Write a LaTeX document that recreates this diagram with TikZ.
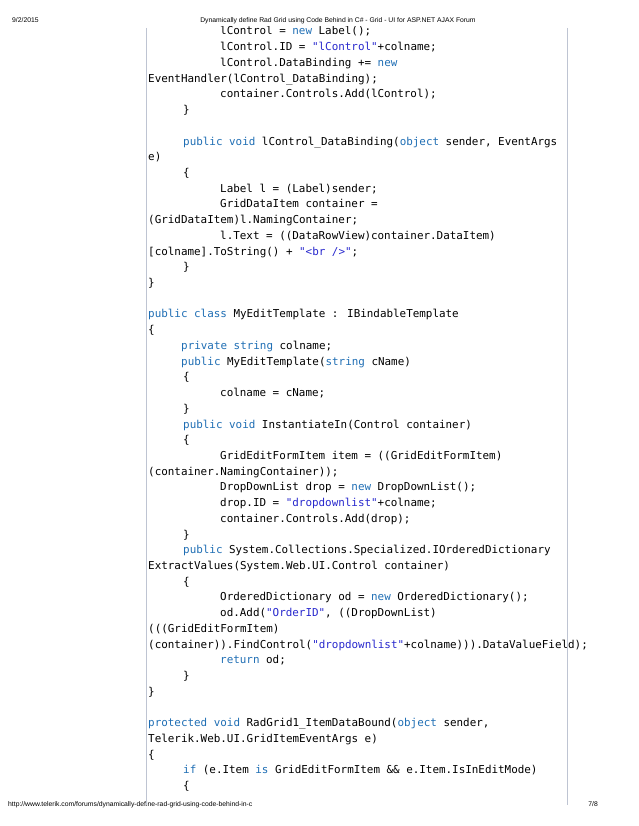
\documentclass[tikz,border=0pt]{standalone}
\usepackage{fontspec}
\setmainfont{Liberation Sans}
\newfontfamily\codefont{DejaVu Sans Mono}
\definecolor{kw}{RGB}{31,110,180}
\definecolor{strc}{RGB}{40,40,205}
\definecolor{rulec}{RGB}{190,196,210}
\newcommand{\kw}[1]{\textcolor{kw}{#1}}
\newcommand{\sq}[1]{\textcolor{strc}{#1}}
\newcommand{\cl}[4]{\node[codeline] (#1) at (#2,{35+15.72*#3}) {#4};}
\begin{document}
\begin{tikzpicture}[x=1pt,y=-1pt,codeline/.style={anchor=base west,inner sep=0pt,font=\codefont\fontsize{10.9}{13}\selectfont},small/.style={inner sep=0pt,anchor=base,font=\fontsize{6.8}{8}\selectfont}]
\useasboundingbox (0,0) rectangle (638,826);
\node[small,anchor=base west] (date) at (12,23) {9/2/2015};
\node[small] (title) at (338,23) {Dynamically define Rad Grid using Code Behind in C\# - Grid - UI for ASP.NET AJAX Forum};
\node[small,anchor=base west] (url) at (8,806) {http://www.telerik.com/forums/dynamically-define-rad-grid-using-code-behind-in-c};
\node[small,anchor=base east] (pg) at (598,806) {7/8};
\coordinate (la) at (146,28); \coordinate (lb) at (146,805);
\coordinate (ra) at (567,28); \coordinate (rb) at (567,805);
\draw[rulec,line width=0.8pt] (la) -- (lb);
\draw[rulec,line width=0.8pt] (ra) -- (rb);
\begin{scope}
\clip (140,27) rectangle (630,810);
\cl{l0}{220}{0}{lControl = \kw{new} Label();}
\cl{l1}{220}{1}{lControl.ID = \sq{"lControl"}+colname;}
\cl{l2}{220}{2}{lControl.DataBinding += \kw{new}}
\cl{l3}{148}{3}{EventHandler(lControl\_DataBinding);}
\cl{l4}{220}{4}{container.Controls.Add(lControl);}
\cl{l5}{183}{5}{\}}
\cl{l7}{183}{7}{\kw{public} \kw{void} lControl\_DataBinding(\kw{object} sender, EventArgs}
\cl{l8}{148}{8}{e)}
\cl{l9}{183}{9}{\{}
\cl{l10}{220}{10}{Label l = (Label)sender;}
\cl{l11}{220}{11}{GridDataItem container =}
\cl{l12}{148}{12}{(GridDataItem)l.NamingContainer;}
\cl{l13}{220}{13}{l.Text = ((DataRowView)container.DataItem)}
\cl{l14}{148}{14}{[colname].ToString() + \sq{"<br />"};}
\cl{l15}{183}{15}{\}}
\cl{l16}{148}{16}{\}}
\cl{l18}{148}{18}{\kw{public} \kw{class} MyEditTemplate : IBindableTemplate}
\cl{l19}{148}{19}{\{}
\cl{l20}{181}{20}{\kw{private} \kw{string} colname;}
\cl{l21}{181}{21}{\kw{public} MyEditTemplate(\kw{string} cName)}
\cl{l22}{183}{22}{\{}
\cl{l23}{220}{23}{colname = cName;}
\cl{l24}{183}{24}{\}}
\cl{l25}{183}{25}{\kw{public} \kw{void} InstantiateIn(Control container)}
\cl{l26}{183}{26}{\{}
\cl{l27}{220}{27}{GridEditFormItem item = ((GridEditFormItem)}
\cl{l28}{148}{28}{(container.NamingContainer));}
\cl{l29}{220}{29}{DropDownList drop = \kw{new} DropDownList();}
\cl{l30}{220}{30}{drop.ID = \sq{"dropdownlist"}+colname;}
\cl{l31}{220}{31}{container.Controls.Add(drop);}
\cl{l32}{183}{32}{\}}
\cl{l33}{183}{33}{\kw{public} System.Collections.Specialized.IOrderedDictionary}
\cl{l34}{148}{34}{ExtractValues(System.Web.UI.Control container)}
\cl{l35}{183}{35}{\{}
\cl{l36}{220}{36}{OrderedDictionary od = \kw{new} OrderedDictionary();}
\cl{l37}{220}{37}{od.Add(\sq{"OrderID"}, ((DropDownList)}
\cl{l38}{148}{38}{(((GridEditFormItem)}
\cl{l39}{148}{39}{(container)).FindControl(\sq{"dropdownlist"}+colname))).DataValueField);}
\cl{l40}{220}{40}{\kw{return} od;}
\cl{l41}{183}{41}{\}}
\cl{l42}{148}{42}{\}}
\cl{l44}{148}{44}{\kw{protected} \kw{void} RadGrid1\_ItemDataBound(\kw{object} sender,}
\cl{l45}{148}{45}{Telerik.Web.UI.GridItemEventArgs e)}
\cl{l46}{148}{46}{\{}
\cl{l47}{183}{47}{\kw{if} (e.Item \kw{is} GridEditFormItem \&\& e.Item.IsInEditMode)}
\cl{l48}{183}{48}{\{}
\end{scope}
\end{tikzpicture}
\end{document}
